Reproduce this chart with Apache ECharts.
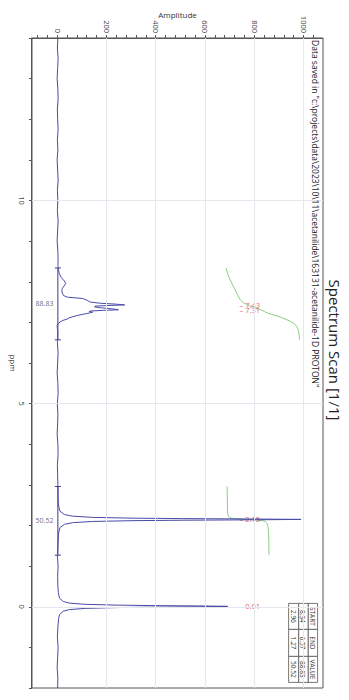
<!DOCTYPE html>
<html>
<head>
<meta charset="utf-8">
<script src="https://cdn.jsdelivr.net/npm/echarts@6/dist/echarts.min.js"></script>
<style>
  html, body { margin: 0; padding: 0; background: #ffffff; overflow: hidden; }
  body { width: 349px; height: 700px; position: relative; }
  /* The plot is laid out landscape (700 x 349) and turned a quarter clockwise onto the portrait page. */
  #chart {
    position: absolute; left: 0; top: 0;
    width: 700px; height: 349px;
    transform-origin: 0 0;
    transform: translate(349px, 0) rotate(90deg);
  }
</style>
</head>
<body>
<div id="chart"></div>
<script>
// 1H NMR spectrum of acetanilide: [chemical shift (ppm), amplitude]
const spectrum = [
  [14.00, 1], [13.75, -1], [13.50, 2], [13.25, 0], [13.00, -2], [12.75, 1], [12.50, 2],
  [12.25, -1], [12.00, 0], [11.75, 2], [11.50, -1], [11.25, 1], [11.00, -2], [10.75, 0],
  [10.50, 2], [10.25, -1], [10.00, 1], [9.75, -1], [9.50, 2], [9.25, 0], [9.00, -2],
  [8.75, 1], [8.50, 2], [8.40, 1], [8.30, 3], [8.20, 7], [8.10, 15], [8.02, 27],
  [7.96, 33], [7.90, 27], [7.84, 19], [7.78, 17], [7.72, 19], [7.66, 24], [7.62, 40],
  [7.59, 100], [7.55, 118], [7.50, 132], [7.47, 175], [7.45, 235], [7.43, 272],
  [7.415, 205], [7.40, 152], [7.38, 150], [7.36, 175], [7.33, 225], [7.31, 247],
  [7.295, 185], [7.28, 135], [7.265, 128], [7.25, 142], [7.235, 132], [7.22, 120],
  [7.20, 104], [7.17, 80], [7.14, 62], [7.11, 46], [7.08, 38], [7.05, 22], [7.01, 10],
  [6.97, 3], [6.92, -2], [6.85, -1], [6.75, 1], [6.50, -1], [6.25, 2], [6.00, 0],
  [5.75, -2], [5.50, 1], [5.25, 2], [5.00, -1], [4.75, 1], [4.50, 0], [4.25, -2],
  [4.00, 1], [3.75, 2], [3.50, -1], [3.25, 0], [3.00, 1], [2.75, 2], [2.60, 2],
  [2.45, 5], [2.35, 10], [2.27, 28], [2.23, 61], [2.20, 142], [2.18, 314], [2.17, 506],
  [2.16, 798], [2.15, 988], [2.14, 798], [2.13, 506], [2.12, 314], [2.10, 142],
  [2.07, 61], [2.03, 28], [1.95, 10], [1.85, 5], [1.75, 3], [1.50, 1], [1.25, -1],
  [1.00, 2], [0.75, 0], [0.50, 1], [0.35, 3], [0.31, 4], [0.21, 8], [0.13, 23],
  [0.09, 48], [0.06, 112], [0.04, 241], [0.03, 378], [0.02, 572], [0.01, 690],
  [0.00, 572], [-0.01, 378], [-0.02, 241], [-0.04, 112], [-0.07, 48], [-0.11, 23],
  [-0.19, 8], [-0.29, 4], [-0.50, 1], [-0.75, -1], [-1.00, 2], [-1.25, 0],
  [-1.50, -2], [-1.75, 1], [-2.00, 0]
];

// Running integrals drawn over each integrated region
const integralAromatic = [
  [8.34, 684], [8.20, 690], [8.05, 700], [7.90, 712], [7.80, 720], [7.65, 733],
  [7.55, 742], [7.47, 758], [7.42, 775], [7.36, 800], [7.30, 828], [7.23, 852],
  [7.15, 895], [7.06, 932], [6.98, 958], [6.90, 970], [6.80, 977], [6.70, 980], [6.57, 981]
];
const integralMethyl = [
  [2.96, 688], [2.60, 689], [2.30, 690], [2.22, 694], [2.18, 705], [2.16, 740],
  [2.15, 770], [2.14, 800], [2.12, 830], [2.10, 843], [2.05, 850], [1.90, 855],
  [1.60, 857], [1.27, 858]
];

// Integration table
const integStart = [8.34, 2.96];
const integEnd = [6.57, 1.27];
const integValue = [88.83, 50.52];

// Picked peaks
const peakPpm = [7.43, 7.31, 2.15, 0.01];

// Axis ticks and labels
const ampLabels = [0, 200, 400, 600, 800, 1000];
const ampTicks = [-80, -40, 0, 40, 80, 120, 160, 200, 240, 280, 320, 360, 400, 440, 480,
  520, 560, 600, 640, 680, 720, 760, 800, 840, 880, 920, 960, 1000, 1040];
const ppmLabels = [0, 5, 10];

const title = 'Spectrum Scan [1/1]';
const subtitle = 'Data saved in "c:\\projects\\data\\2023\\10\\11\\acetanilide\\163131-acetanilide-1D PROTON"';

const FONT = 'Open Sans';
const SPEC_COLOR = '#4a4aa6';
const INT_COLOR = '#86cf7c';
const PEAK_COLOR = '#cf3c3c';

const chart = echarts.init(document.getElementById('chart'), null, {
  renderer: 'svg', width: 700, height: 349
});

// integration table cells
function buildTable() {
  const colW = [26, 27, 26];
  const rowH = [9.5, 9.5, 10];
  const rows = [['START', 'END', 'VALUE']];
  for (let i = 0; i < integStart.length; i++) {
    rows.push([integStart[i].toFixed(2), integEnd[i].toFixed(2), integValue[i].toFixed(2)]);
  }
  const children = [];
  let y = 0;
  rows.forEach((row, r) => {
    let x = 0;
    row.forEach((cell, c) => {
      children.push({
        type: 'rect',
        shape: { x: x, y: y, width: colW[c], height: rowH[r] },
        style: { fill: '#ffffff', stroke: '#555555', lineWidth: 0.8 }
      });
      children.push({
        type: 'text',
        x: x + colW[c] / 2, y: y + rowH[r] / 2 + 0.5,
        style: {
          text: cell, fontSize: 6.5, fontFamily: FONT, fill: '#333333',
          align: 'center', verticalAlign: 'middle'
        }
      });
      x += colW[c];
    });
    y += rowH[r];
  });
  return { type: 'group', left: 603, top: 31, children: children };
}

const gridLines = [
  ...ampLabels.filter(v => v > 0).map(v => ({ yAxis: v })),
  ...ppmLabels.map(v => ({ xAxis: v }))
];

const option = {
  backgroundColor: '#ffffff',
  animation: false,
  textStyle: { fontFamily: FONT },
  title: [
    {
      text: title, left: 'center', top: 7, padding: 0,
      textStyle: { fontSize: 15, fontWeight: 'normal', color: '#222222', fontFamily: FONT }
    },
    {
      text: subtitle, left: 40, top: 29, padding: 0,
      textStyle: { fontSize: 8.5, fontWeight: 'normal', color: '#222222', fontFamily: FONT }
    }
  ],
  grid: {
    left: 38, right: 12, top: 26, bottom: 32,
    outerBoundsMode: 'none', containLabel: false,
    show: true, borderColor: '#555555', borderWidth: 1, backgroundColor: 'transparent'
  },
  xAxis: {
    type: 'value', min: -2, max: 14, interval: 1, inverse: true,
    name: 'ppm', nameLocation: 'middle', nameGap: 15, nameMoveOverlap: false,
    nameTextStyle: { fontSize: 8, color: '#333333', fontFamily: FONT },
    axisLine: { show: true, onZero: false, lineStyle: { color: '#555555' } },
    axisTick: { show: true, length: 3, lineStyle: { color: '#555555' } },
    axisLabel: {
      fontSize: 7.5, color: '#444444', margin: 6, fontFamily: FONT,
      formatter: v => (ppmLabels.includes(v) ? String(v) : '')
    },
    splitLine: { show: false }
  },
  yAxis: {
    type: 'value', min: -104, max: 1077,
    name: 'Amplitude', nameLocation: 'middle', nameGap: 20, nameMoveOverlap: false,
    nameTextStyle: { fontSize: 8, color: '#333333', fontFamily: FONT },
    axisLine: { show: true, onZero: false, lineStyle: { color: '#555555' } },
    axisTick: { show: true, length: 3, customValues: ampTicks, lineStyle: { color: '#555555' } },
    axisLabel: {
      customValues: ampLabels, fontSize: 7.5, color: '#444444', margin: 5, fontFamily: FONT,
      formatter: v => String(v)
    },
    splitLine: { show: false }
  },
  graphic: [buildTable()],
  series: [
    {
      // light reference grid
      type: 'line', data: [], z: 0, silent: true,
      markLine: {
        silent: true, symbol: 'none', label: { show: false },
        lineStyle: { color: '#e6e6ee', width: 1, type: 'solid' },
        data: gridLines
      }
    },
    {
      type: 'line', data: integralAromatic, z: 1, symbol: 'none', smooth: 0.3,
      lineStyle: { color: INT_COLOR, width: 1 }
    },
    {
      type: 'line', data: integralMethyl, z: 1, symbol: 'none', smooth: 0.3,
      lineStyle: { color: INT_COLOR, width: 1 }
    },
    {
      // picked peak shifts
      type: 'scatter', z: 1, symbolSize: 0,
      data: peakPpm.map(p => [p, 738]),
      label: {
        show: true, position: 'inside', rotate: 90, align: 'left', verticalAlign: 'middle',
        fontSize: 7.5, color: PEAK_COLOR, fontFamily: FONT,
        formatter: p => '\u2013 ' + p.value[0].toFixed(2)
      }
    },
    ...integStart.map((s, i) => ({
      // integration range bracket
      type: 'line', z: 3, data: [[s, 1], [integEnd[i], 1]],
      symbol: 'rect', symbolSize: [1, 6], showAllSymbol: true,
      itemStyle: { color: '#3a3a8a' },
      lineStyle: { color: '#3a3a8a', width: 1 }
    })),
    {
      // integral values beside each bracket
      type: 'scatter', z: 3, symbolSize: 0,
      data: integValue.map((v, i) => [(integStart[i] + integEnd[i]) / 2, -17, v]),
      label: {
        show: true, position: 'inside', rotate: 90, align: 'right', verticalAlign: 'middle',
        fontSize: 7, color: '#3c3c6a', fontFamily: FONT,
        formatter: p => p.value[2].toFixed(2)
      }
    },
    {
      type: 'line', data: spectrum, z: 4, symbol: 'none', sampling: 'none',
      lineStyle: { color: SPEC_COLOR, width: 1 }
    }
  ]
};

chart.setOption(option);
</script>
</body>
</html>
